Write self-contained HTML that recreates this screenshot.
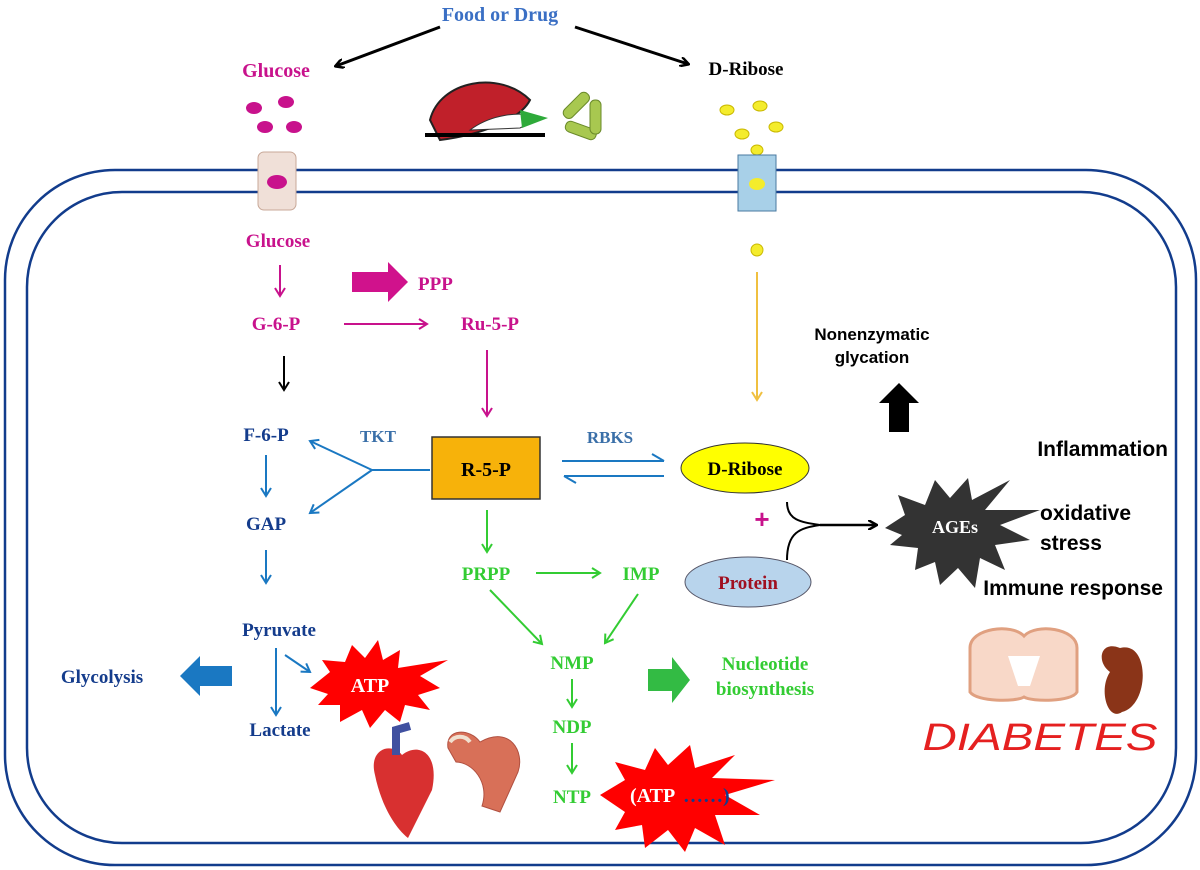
<!DOCTYPE html>
<html><head><meta charset="utf-8"><style>
html,body{margin:0;padding:0;background:#fff}
svg{display:block}
.s{font-family:"Liberation Serif",serif;font-weight:bold}
.a{font-family:"Liberation Sans",sans-serif;font-weight:bold}
</style></head><body>
<svg width="1200" height="870" viewBox="0 0 1200 870" xmlns="http://www.w3.org/2000/svg">
<defs>
<marker id="ak" markerWidth="10" markerHeight="10" refX="8" refY="5" orient="auto" markerUnits="userSpaceOnUse"><path d="M0,0 L9,5 L0,10" fill="none" stroke="#000" stroke-width="2.5"/></marker>
<marker id="am" markerWidth="12" markerHeight="12" refX="9" refY="6" orient="auto" markerUnits="userSpaceOnUse"><path d="M1,1 L9,6 L1,11" fill="none" stroke="#c8128c" stroke-width="2"/></marker>
<marker id="ab" markerWidth="12" markerHeight="12" refX="9" refY="6" orient="auto" markerUnits="userSpaceOnUse"><path d="M1,1 L9,6 L1,11" fill="none" stroke="#1a78c2" stroke-width="2"/></marker>
<marker id="ag" markerWidth="12" markerHeight="12" refX="9" refY="6" orient="auto" markerUnits="userSpaceOnUse"><path d="M1,1 L9,6 L1,11" fill="none" stroke="#33cc33" stroke-width="2"/></marker>
<marker id="ay" markerWidth="12" markerHeight="12" refX="9" refY="6" orient="auto" markerUnits="userSpaceOnUse"><path d="M1,1 L9,6 L1,11" fill="none" stroke="#f0c040" stroke-width="2"/></marker>
<marker id="abk" markerWidth="12" markerHeight="12" refX="9" refY="6" orient="auto" markerUnits="userSpaceOnUse"><path d="M1,1 L9,6 L1,11" fill="none" stroke="#000" stroke-width="2"/></marker>
</defs>
<rect x="5" y="170" width="1191" height="695" rx="110" fill="none" stroke="#123c8c" stroke-width="2.5"/>
<rect x="27" y="192" width="1149" height="651" rx="95" fill="none" stroke="#123c8c" stroke-width="2.5"/>
<text x="500" y="21" class="s" font-size="20" fill="#3a6fc4" text-anchor="middle">Food or Drug</text>
<line x1="440" y1="27" x2="336" y2="66" stroke="#000" stroke-width="3" marker-end="url(#ak)"/>
<line x1="575" y1="27" x2="688" y2="64" stroke="#000" stroke-width="3" marker-end="url(#ak)"/>
<text x="276" y="77" class="s" font-size="20" fill="#c8128c" text-anchor="middle">Glucose</text>
<text x="746" y="75" class="s" font-size="19" fill="#000" text-anchor="middle">D-Ribose</text>
<g fill="#c8128c"><ellipse cx="254" cy="108" rx="8" ry="6"/><ellipse cx="286" cy="102" rx="8" ry="6"/><ellipse cx="265" cy="127" rx="8" ry="6"/><ellipse cx="294" cy="127" rx="8" ry="6"/></g>
<g fill="#f4ec2c" stroke="#c9b800"><ellipse cx="727" cy="110" rx="7" ry="5"/><ellipse cx="760" cy="106" rx="7" ry="5"/><ellipse cx="742" cy="134" rx="7" ry="5"/><ellipse cx="776" cy="127" rx="7" ry="5"/><ellipse cx="757" cy="150" rx="6" ry="5"/></g>
<path d="M430,120 C440,80 500,70 530,100 C520,120 480,135 440,140 Z" fill="#c0202a" stroke="#222" stroke-width="2"/>
<path d="M470,130 C490,115 520,110 540,118 L520,128 Z" fill="#fff" stroke="#333"/>
<path d="M520,110 L548,118 L522,128 Z" fill="#2eaa3a"/>
<rect x="425" y="133" width="120" height="4" fill="#000"/>
<g fill="#a8c850" stroke="#6a8a2a"><rect x="560" y="100" width="32" height="11" rx="5" transform="rotate(-45 576 105)"/><rect x="565" y="125" width="32" height="11" rx="5" transform="rotate(20 581 130)"/><rect x="590" y="100" width="11" height="34" rx="5"/></g>
<rect x="258" y="152" width="38" height="58" rx="6" fill="#f0e0d8" stroke="#c8a898"/>
<ellipse cx="277" cy="182" rx="10" ry="7" fill="#c8128c"/>
<rect x="738" y="155" width="38" height="56" fill="#a8d0e8" stroke="#4a7aa0"/>
<ellipse cx="757" cy="184" rx="8" ry="6" fill="#f4ec2c"/>
<circle cx="757" cy="250" r="6" fill="#f4ec2c" stroke="#c9b800"/>
<line x1="757" y1="272" x2="757" y2="400" stroke="#f0c040" stroke-width="2" marker-end="url(#ay)"/>
<text x="278" y="247" class="s" font-size="19" fill="#c8128c" text-anchor="middle">Glucose</text>
<line x1="280" y1="265" x2="280" y2="296" stroke="#c8128c" stroke-width="2" marker-end="url(#am)"/>
<path d="M352,272 L388,272 L388,262 L408,282 L388,302 L388,292 L352,292 Z" fill="#d0128c"/>
<text x="418" y="290" class="s" font-size="19" fill="#c8128c">PPP</text>
<text x="276" y="330" class="s" font-size="19" fill="#c8128c" text-anchor="middle">G-6-P</text>
<line x1="344" y1="324" x2="427" y2="324" stroke="#c8128c" stroke-width="2" marker-end="url(#am)"/>
<text x="490" y="330" class="s" font-size="19" fill="#c8128c" text-anchor="middle">Ru-5-P</text>
<line x1="487" y1="350" x2="487" y2="416" stroke="#c8128c" stroke-width="2" marker-end="url(#am)"/>
<line x1="284" y1="356" x2="284" y2="390" stroke="#000" stroke-width="2" marker-end="url(#abk)"/>
<text x="266" y="441" class="s" font-size="19" fill="#143c8c" text-anchor="middle">F-6-P</text>
<text x="378" y="442" class="s" font-size="17" fill="#3a6fa8" text-anchor="middle">TKT</text>
<line x1="430" y1="470" x2="372" y2="470" stroke="#1a78c2" stroke-width="2"/>
<line x1="372" y1="470" x2="310" y2="441" stroke="#1a78c2" stroke-width="2" marker-end="url(#ab)"/>
<line x1="372" y1="470" x2="310" y2="513" stroke="#1a78c2" stroke-width="2" marker-end="url(#ab)"/>
<line x1="266" y1="455" x2="266" y2="496" stroke="#1a78c2" stroke-width="2" marker-end="url(#ab)"/>
<text x="266" y="530" class="s" font-size="19" fill="#143c8c" text-anchor="middle">GAP</text>
<line x1="266" y1="550" x2="266" y2="583" stroke="#1a78c2" stroke-width="2" marker-end="url(#ab)"/>
<text x="279" y="636" class="s" font-size="19" fill="#143c8c" text-anchor="middle">Pyruvate</text>
<line x1="276" y1="648" x2="276" y2="715" stroke="#1a78c2" stroke-width="2" marker-end="url(#ab)"/>
<line x1="285" y1="655" x2="310" y2="672" stroke="#1a78c2" stroke-width="2" marker-end="url(#ab)"/>
<text x="280" y="736" class="s" font-size="19" fill="#143c8c" text-anchor="middle">Lactate</text>
<text x="102" y="683" class="s" font-size="19" fill="#143c8c" text-anchor="middle">Glycolysis</text>
<path d="M232,666 L200,666 L200,656 L180,676 L200,696 L200,686 L232,686 Z" fill="#1a78c2"/>
<polygon points="310,688 330,672 322,660 345,662 352,645 365,658 378,640 383,660 400,650 398,668 448,660 420,676 440,688 418,695 430,710 405,705 400,722 385,710 370,728 362,710 340,722 340,705 318,705 328,694" fill="#f00"/>
<text x="370" y="692" class="s" font-size="20" fill="#fff" text-anchor="middle">ATP</text>
<rect x="432" y="437" width="108" height="62" fill="#f7b20a" stroke="#333" stroke-width="1.5"/>
<text x="486" y="476" class="s" font-size="20" fill="#000" text-anchor="middle">R-5-P</text>
<text x="610" y="443" class="s" font-size="17" fill="#3a6fa8" text-anchor="middle">RBKS</text>
<line x1="562" y1="461" x2="664" y2="461" stroke="#1a78c2" stroke-width="2"/>
<path d="M652,454 L664,461" stroke="#1a78c2" stroke-width="2"/>
<line x1="664" y1="476" x2="564" y2="476" stroke="#1a78c2" stroke-width="2"/>
<path d="M576,483 L564,476" stroke="#1a78c2" stroke-width="2"/>
<ellipse cx="745" cy="468" rx="64" ry="25" fill="#ffff00" stroke="#333"/>
<text x="745" y="475" class="s" font-size="19" fill="#000" text-anchor="middle">D-Ribose</text>
<ellipse cx="748" cy="582" rx="63" ry="25" fill="#b8d4ec" stroke="#556"/>
<text x="748" y="589" class="s" font-size="19" fill="#a01020" text-anchor="middle">Protein</text>
<text x="762" y="528" class="a" font-size="26" fill="#c8128c" text-anchor="middle" font-weight="normal">+</text>
<path d="M787,502 C787,520 800,522 820,525 M787,560 C787,532 800,528 820,525" fill="none" stroke="#000" stroke-width="2"/>
<line x1="820" y1="525" x2="876" y2="525" stroke="#000" stroke-width="2.5" marker-end="url(#ak)"/>
<polygon points="885,528 905,515 898,495 925,505 935,480 950,498 968,478 972,500 1010,480 985,510 1040,510 1000,525 1030,540 995,545 1005,570 980,558 975,588 958,568 940,585 935,562 915,570 918,548 890,545 902,535" fill="#333"/>
<text x="955" y="533" class="s" font-size="18" fill="#fff" text-anchor="middle">AGEs</text>
<text x="872" y="340" class="a" font-size="17" fill="#000" text-anchor="middle">Nonenzymatic</text>
<text x="872" y="363" class="a" font-size="17" fill="#000" text-anchor="middle">glycation</text>
<path d="M889,432 L889,403 L879,403 L899,383 L919,403 L909,403 L909,432 Z" fill="#000"/>
<text x="1168" y="456" class="a" font-size="21" fill="#000" text-anchor="end">Inflammation</text>
<text x="1040" y="520" class="a" font-size="21" fill="#000">oxidative</text>
<text x="1040" y="550" class="a" font-size="21" fill="#000">stress</text>
<text x="1163" y="595" class="a" font-size="21" fill="#000" text-anchor="end">Immune response</text>
<path d="M970,648 C970,628 1012,623 1024,636 C1036,623 1077,628 1077,648 L1077,692 C1072,702 1032,702 1024,697 C1016,702 977,702 970,692 Z" fill="#f8d8c8" stroke="#e0a080" stroke-width="3"/>
<path d="M1008,656 L1040,656 L1030,686 L1018,686 Z" fill="#fff"/>
<path d="M1120,648 C1100,640 1096,662 1110,672 C1098,690 1108,722 1122,712 C1150,705 1150,640 1120,648 Z" fill="#8a3418"/>
<text x="1040" y="750" font-family="Liberation Sans,sans-serif" font-style="italic" font-size="38" fill="#e52020" text-anchor="middle" textLength="235" lengthAdjust="spacingAndGlyphs">DIABETES</text>
<line x1="487" y1="510" x2="487" y2="552" stroke="#33cc33" stroke-width="2" marker-end="url(#ag)"/>
<text x="486" y="580" class="s" font-size="19" fill="#33cc33" text-anchor="middle">PRPP</text>
<line x1="536" y1="573" x2="600" y2="573" stroke="#33cc33" stroke-width="2" marker-end="url(#ag)"/>
<text x="641" y="580" class="s" font-size="19" fill="#33cc33" text-anchor="middle">IMP</text>
<line x1="490" y1="590" x2="542" y2="644" stroke="#33cc33" stroke-width="2" marker-end="url(#ag)"/>
<line x1="638" y1="594" x2="605" y2="643" stroke="#33cc33" stroke-width="2" marker-end="url(#ag)"/>
<text x="572" y="669" class="s" font-size="19" fill="#33cc33" text-anchor="middle">NMP</text>
<line x1="572" y1="679" x2="572" y2="707" stroke="#33cc33" stroke-width="2" marker-end="url(#ag)"/>
<text x="572" y="733" class="s" font-size="19" fill="#33cc33" text-anchor="middle">NDP</text>
<line x1="572" y1="743" x2="572" y2="773" stroke="#33cc33" stroke-width="2" marker-end="url(#ag)"/>
<text x="572" y="803" class="s" font-size="19" fill="#33cc33" text-anchor="middle">NTP</text>
<path d="M648,669 L672,669 L672,657 L690,680 L672,703 L672,691 L648,691 Z" fill="#33bb44"/>
<text x="765" y="670" class="s" font-size="19" fill="#33cc33" text-anchor="middle">Nucleotide</text>
<text x="765" y="695" class="s" font-size="19" fill="#33cc33" text-anchor="middle">biosynthesis</text>
<polygon points="600,795 625,780 615,762 645,770 655,748 668,765 690,745 695,768 735,755 712,778 775,780 725,795 760,815 715,815 725,845 695,828 685,852 668,830 645,848 642,825 615,830 625,812" fill="#f00"/>
<text x="630" y="802" class="s" font-size="20" fill="#fff">(ATP</text>
<text x="683" y="802" class="s" font-size="20" fill="#143c8c">……)</text>
<path d="M375,775 C368,748 392,742 402,755 C418,742 440,752 432,790 L408,838 C392,825 380,800 375,775 Z" fill="#d83030"/>
<path d="M396,755 L396,730 L410,726" stroke="#4050a0" stroke-width="8" fill="none"/>
<path d="M448,748 C445,728 470,728 480,742 C510,725 525,752 518,772 L500,812 L482,806 C490,782 472,762 456,762 Z" fill="#d87058" stroke="#b05040"/>
<path d="M450,742 C455,735 465,735 470,742" stroke="#f0e0d0" stroke-width="4" fill="none"/>
</svg>
</body></html>
